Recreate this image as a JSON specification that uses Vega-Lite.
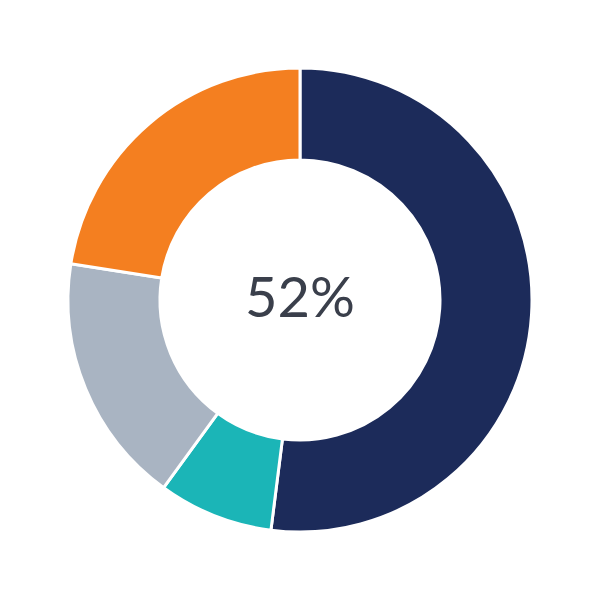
{
  "$schema": "https://vega.github.io/schema/vega-lite/v6.json",
  "width": 600,
  "height": 600,
  "autosize": {"type": "fit", "contains": "padding"},
  "background": "white",
  "config": {"view": {"stroke": null}},
  "data": {
    "values": [
      {"segment": "A", "rank": 1, "share": 0.52},
      {"segment": "B", "rank": 2, "share": 0.08},
      {"segment": "C", "rank": 3, "share": 0.175},
      {"segment": "D", "rank": 4, "share": 0.225}
    ]
  },
  "layer": [
    {
      "mark": {"type": "arc", "outerRadius": 232, "innerRadius": 140, "stroke": "white", "strokeWidth": 3},
      "encoding": {
        "theta": {"field": "share", "type": "quantitative", "stack": true},
        "order": {"field": "rank", "type": "quantitative"},
        "color": {
          "field": "segment",
          "type": "nominal",
          "legend": null,
          "scale": {
            "domain": ["A", "B", "C", "D"],
            "range": ["#1c2b5a", "#1bb5b7", "#a9b4c2", "#f47f20"]
          }
        }
      }
    },
    {
      "transform": [{"filter": "datum.segment == 'A'"}],
      "mark": {
        "type": "text",
        "font": "Lato",
        "fontWeight": 400,
        "fontSize": 56,
        "color": "#3a3f4b",
        "align": "center",
        "baseline": "middle"
      },
      "encoding": {
        "text": {"field": "share", "type": "quantitative", "format": ".0%"}
      }
    }
  ]
}
